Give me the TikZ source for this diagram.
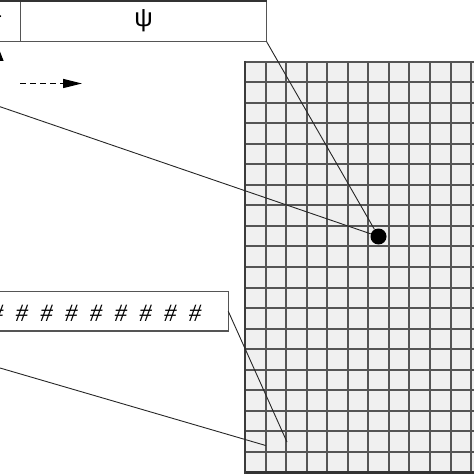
\documentclass[tikz,border=0pt]{standalone}
\usepackage{fontspec}
\setmainfont{Liberation Sans}
\newfontfamily\hashfont{Liberation Serif}
\usetikzlibrary{arrows.meta}
\definecolor{gridfill}{HTML}{F0F0F0}
\definecolor{gridline}{HTML}{555555}
\definecolor{boxline}{HTML}{555555}
\tikzset{
  gline/.style={draw=gridline, line width=2bp},
  boxcell/.style={draw=boxline, line width=1.3bp, fill=white, inner sep=0pt, outer sep=0pt},
  conn/.style={draw=black!85, line width=0.9bp},
  hashtxt/.style={inner sep=0pt, font=\hashfont\fontsize{25}{25}\selectfont\itshape},
}
\begin{document}
\begin{tikzpicture}[x=1bp,y=-1bp]
\useasboundingbox (0,0) rectangle (474,474);
\begin{scope}
\clip (0,0) rectangle (474,474);
% grid
\fill[gridfill] (245,62) rectangle (480,472);
\foreach \i in {0,...,11} \draw[gline] ({round(245+20.55*\i)},62) -- ({round(245+20.55*\i)},472);
\foreach \j in {0,...,20} \draw[gline] (245,{round(61.7+20.53*\j)}) -- (480,{round(61.7+20.53*\j)});
\draw[gridline!60!black, line width=3bp] (244,472.5) -- (480,472.5);
\draw[gridline!70!black, line width=2bp] (245,61) -- (245,474);
% top box
\node[boxcell, minimum width=25.7bp, minimum height=41bp] (topA) at (7.85,21) {};
\node[boxcell, minimum width=245.8bp, minimum height=41bp, font=\fontsize{26}{26}\selectfont] (topB) at (143.6,21) {ψ};
\node[inner sep=0pt, font=\fontsize{22}{22}\selectfont] (topAtxt) at (-1.5,19) {-};
\draw[black!80, line width=2.2bp] (-5,1) -- (266.5,1);
% arrows
\coordinate (upS) at (-1,100);
\coordinate (upE) at (-1,49);
\draw[line width=1bp, -{Triangle[length=12bp,width=9bp]}] (upS) -- (upE);
\coordinate (dS) at (20,83.5);
\coordinate (dE) at (82,83.5);
\draw[line width=1.3bp, dash pattern=on 6bp off 4bp, -{Triangle[length=19bp,width=9bp]}] (dS) -- (dE);
% bottom box
\node[boxcell, minimum width=233.3bp, minimum height=39.3bp] (hashbox) at (111.65,311.35) {};
\foreach \k in {0,...,8} \node[hashtxt] (h\k) at ({-3+24.76*\k},313) {\#};
% dot
\node[circle, fill=black, inner sep=0pt, minimum size=16bp] (dot) at (378.5,236.5) {};
% connectors
\coordinate (l2s) at (0,106.7);
\draw[conn] (topB.south east) -- (dot);
\draw[conn] (l2s) -- (dot);
\coordinate (g1) at (287,442);
\coordinate (g2) at (265.7,445.5);
\coordinate (l4s) at (0,368);
\draw[conn] (hashbox.east) -- (g1);
\draw[conn] (l4s) -- (g2);
\end{scope}
\end{tikzpicture}
\end{document}
